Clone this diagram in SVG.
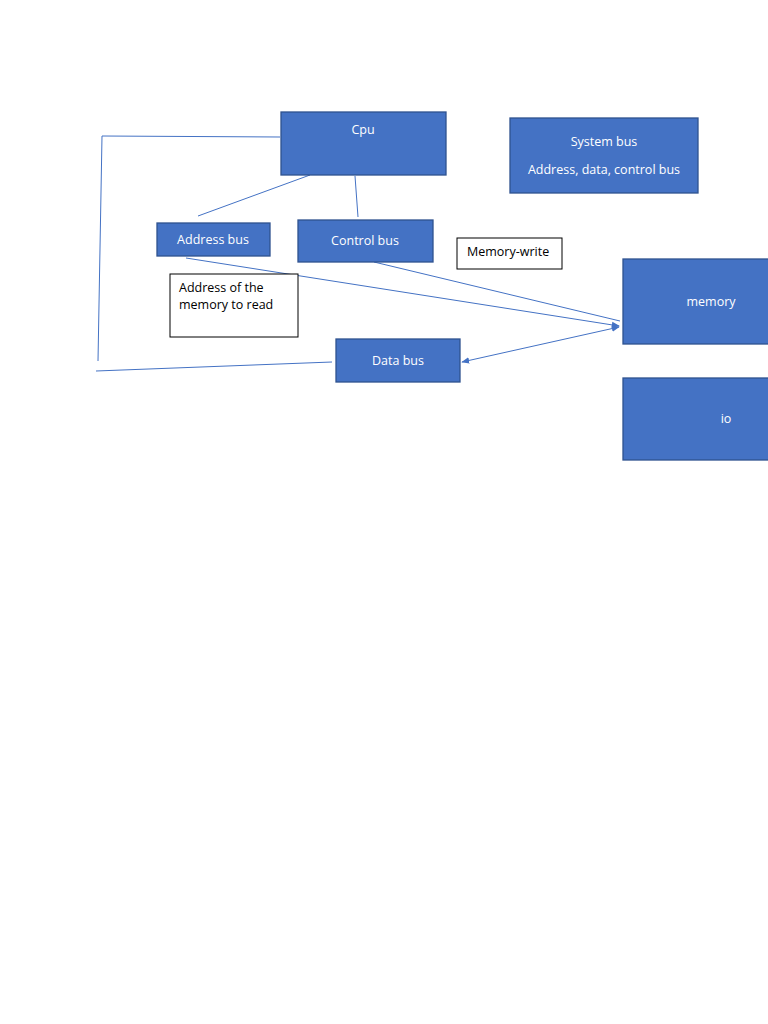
<svg xmlns="http://www.w3.org/2000/svg" width="768" height="1024" viewBox="0 0 768 1024">
<style>
.n{fill:#4472c4;stroke:#2f528f;stroke-width:1.3}
.w{fill:#fff;stroke:#000;stroke-width:1}
.t{font-family:"Open Sans","Liberation Sans",sans-serif;font-size:12.5px;fill:#fff;text-anchor:middle}
.k{font-family:"Open Sans","Liberation Sans",sans-serif;font-size:12.5px;fill:#000}
.c{stroke:#4472c4;stroke-width:1;fill:none}
</style>
<defs><marker id="a" viewBox="0 0 10 10" refX="9" refY="5" markerWidth="8" markerHeight="8" orient="auto-start-reverse"><path d="M0,1 L10,5 L0,9 z" fill="#4472c4"/></marker></defs>
<rect width="768" height="1024" fill="#fff"/>
<g id="connectors">
<path class="c" d="M280,137 L102,136 L98,361"/>
<path class="c" d="M96,371 L332,362"/>
<path class="c" d="M310,175 L198,216"/>
<path class="c" d="M355,176 L358,217"/>
<path class="c" d="M186,258 L619,326" marker-end="url(#a)"/>
<path class="c" d="M374,262 L620,321"/>
<path class="c" d="M462,362 L619,327" marker-start="url(#a)" marker-end="url(#a)"/>
</g>
<g id="cpu"><rect class="n" x="281" y="112" width="165" height="63"/><text class="t" x="363" y="134">Cpu</text></g>
<g id="sysbus"><rect class="n" x="510" y="118" width="188" height="75"/><text class="t" x="604" y="146">System bus</text><text class="t" x="604" y="174">Address, data, control bus</text></g>
<g id="addr"><rect class="n" x="157" y="223" width="113" height="33"/><text class="t" x="213" y="244">Address bus</text></g>
<g id="ctrl"><rect class="n" x="298" y="220" width="135" height="42"/><text class="t" x="365" y="245">Control bus</text></g>
<g id="mw"><rect class="w" x="457" y="238" width="105" height="31"/><text class="k" x="467" y="256">Memory-write</text></g>
<g id="note"><rect class="w" x="170" y="274" width="128" height="63"/><text class="k" x="179" y="292">Address of the</text><text class="k" x="179" y="309">memory to read</text></g>
<g id="data"><rect class="n" x="336" y="339" width="124" height="43"/><text class="t" x="398" y="365">Data bus</text></g>
<g id="memory"><rect class="n" x="623" y="259" width="150" height="85"/><text class="t" x="711" y="306">memory</text></g>
<g id="io"><rect class="n" x="623" y="378" width="150" height="82"/><text class="t" x="726" y="423">io</text></g>
</svg>
